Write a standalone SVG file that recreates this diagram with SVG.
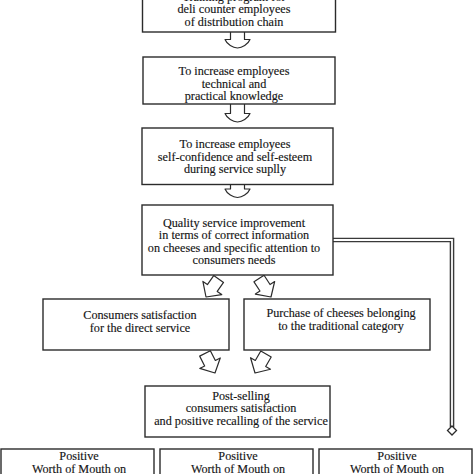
<svg xmlns="http://www.w3.org/2000/svg" width="474" height="474" viewBox="0 0 474 474">
<style>
.box{fill:#fff;stroke:#2b2b2b;stroke-width:1.4}
.arr{fill:#fff;stroke:#2b2b2b;stroke-width:1.2;stroke-linejoin:round}
text{font-family:"Liberation Serif","Times New Roman",serif;font-size:12.2px;fill:#151515;text-anchor:middle;stroke:#151515;stroke-width:0.15}
</style>
<defs>
<path id="varrow" d="M-7,-22 V-8 H-12.5 C-10.5,-3 -4.5,0 0,0.5 C4.5,0 10.5,-3 12.5,-8 H7 V-22"/>
<path id="tarrow" d="M-6,-22 H6 V-11 H11.5 L0,0 L-11.5,-11 H-6 Z"/>
</defs>
<rect width="474" height="474" fill="#fff"/>
<g id="connectors">
<use href="#varrow" class="arr" transform="translate(237.5,47.5)"/>
<use href="#varrow" class="arr" transform="translate(237.5,121.5)"/>
<use href="#varrow" class="arr" transform="translate(237.5,197)"/>
<use href="#tarrow" class="arr" transform="translate(206,297) rotate(35)"/>
<use href="#tarrow" class="arr" transform="translate(271,297) rotate(-33)"/>
<use href="#tarrow" class="arr" transform="translate(215,373) rotate(-27)"/>
<use href="#tarrow" class="arr" transform="translate(255,373) rotate(30)"/>
<path d="M333,240 H452 V427" fill="none" stroke="#3a3a3a" stroke-width="4.6"/>
<path d="M333,240 H452 V428" fill="none" stroke="#fff" stroke-width="1.8"/>
<path d="M452,426 L456.5,430.5 L452,435 L447.5,430.5 Z" fill="#fff" stroke="#2b2b2b" stroke-width="1.3"/>
</g>
<g id="n1">
<rect class="box" x="142.5" y="-5" width="193" height="37"/>
<text x="234" y="0.5">Training program for</text>
<text x="234" y="13.2">deli counter employees</text>
<text x="234" y="26">of distribution chain</text>
</g>
<g id="n2">
<rect class="box" x="143" y="57" width="192" height="47"/>
<text x="234" y="75">To increase employees</text>
<text x="234" y="87.5">technical and</text>
<text x="234" y="100">practical knowledge</text>
</g>
<g id="n3">
<rect class="box" x="142" y="128" width="191" height="56.5"/>
<text x="235" y="148">To increase employees</text>
<text x="235" y="160.5">self-confidence and self-esteem</text>
<text x="235" y="173">during service suplly</text>
</g>
<g id="n4">
<rect class="box" x="142" y="205" width="191" height="70"/>
<text x="234" y="226.5">Quality service improvement</text>
<text x="234" y="239">in terms of correct information</text>
<text x="234" y="251.5">on cheeses and specific attention to</text>
<text x="234" y="264">consumers needs</text>
</g>
<g id="n5">
<rect class="box" x="43" y="299" width="186" height="51"/>
<text x="140" y="319">Consumers satisfaction</text>
<text x="140" y="332">for the direct service</text>
</g>
<g id="n6">
<rect class="box" x="244" y="299" width="186" height="51"/>
<text x="341" y="317">Purchase of cheeses belonging</text>
<text x="341" y="330">to the traditional category</text>
</g>
<g id="n7">
<rect class="box" x="145" y="386" width="185" height="51"/>
<text x="241" y="399.5">Post-selling</text>
<text x="241" y="412">consumers satisfaction</text>
<text x="241" y="424.5">and positive recalling of the service</text>
</g>
<g id="n8">
<rect class="box" x="1" y="449" width="153" height="40"/>
<text x="79" y="460">Positive</text>
<text x="79" y="472.5">Worth of Mouth on</text>
</g>
<g id="n9">
<rect class="box" x="160" y="449" width="153" height="40"/>
<text x="238" y="460">Positive</text>
<text x="238" y="472.5">Worth of Mouth on</text>
</g>
<g id="n10">
<rect class="box" x="319" y="449" width="153" height="40"/>
<text x="397" y="460">Positive</text>
<text x="397" y="472.5">Worth of Mouth on</text>
</g>
</svg>
